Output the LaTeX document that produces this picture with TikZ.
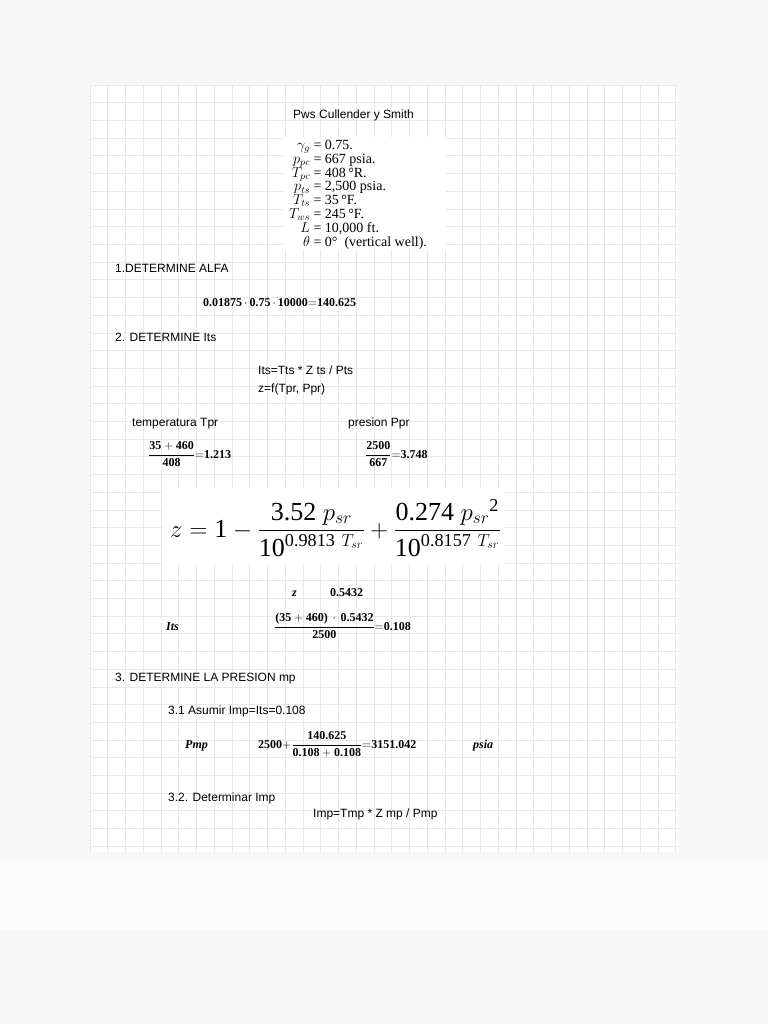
\documentclass[tikz,border=0pt]{standalone}
\usepackage{amsmath}
\usepackage{fontspec}
\setmainfont{Liberation Sans}
\newfontfamily\mc{Liberation Serif}
\newfontfamily\tm{Liberation Serif}
\newcommand{\bb}[1]{\text{\mc\bfseries #1}}
\begin{document}
\begin{tikzpicture}[x=1pt,y=-1pt,
  txt/.style={anchor=base west,inner sep=0,font=\fontsize{12}{14}\selectfont},
  mth/.style={anchor=base west,inner sep=0,font=\mc\bfseries\fontsize{12}{14}\selectfont}]
\useasboundingbox (0,0) rectangle (768,1024);
\fill[black!3] (0,0) rectangle (768,1024);
\fill[white] (90,85) rectangle (678,852);
\fill[black!1.5] (0,860) rectangle (768,930);
\foreach \i in {0,...,33} {\draw[cyan!30!black!12,line width=0.6] ({90+\i*17.75},85) -- ({90+\i*17.75},852);}
\foreach \j in {0,...,43} {\draw[cyan!30!black!12,line width=0.6] (90,{85+\j*17.7}) -- (678,{85+\j*17.7});}
\fill[white] (283,137) rectangle (446,250);
\fill[white] (163,488) rectangle (505,565);
\node[txt] (title) at (293,119) {Pws Cullender y Smith};
\node[anchor=north west,inner sep=0,font=\tm\fontsize{14}{13.6}\selectfont] (params) at (289,140) {%
\renewcommand{\arraystretch}{1}\setlength{\tabcolsep}{0pt}%
\begin{tabular}{r@{ = }l}
$\gamma_g$ & 0.75.\\
$p_{pc}$ & 667 psia.\\
$T_{pc}$ & 408\,°R.\\
$p_{ts}$ & 2,500 psia.\\
$T_{ts}$ & 35\,°F.\\
$T_{ws}$ & 245\,°F.\\
$L$ & 10,000 ft.\\
$\theta$ & 0° \ (vertical well).
\end{tabular}};
\node[txt] (s1) at (115,272) {1.DETERMINE ALFA};
\node[mth] (alfa) at (203,306) {0.01875\,$\cdot$\,0.75\,$\cdot$\,10000$=$140.625};
\node[txt] (s2) at (115,341) {2. DETERMINE Its};
\node[txt] (its) at (258,374) {Its=Tts * Z ts / Pts};
\node[txt] (zf) at (258,392) {z=f(Tpr, Ppr)};
\node[txt] (tpr) at (132,426) {temperatura Tpr};
\node[txt] (ppr) at (348,426) {presion Ppr};
\node[mth] (tprv) at (148,458) {$\dfrac{\bb{35}+\bb{460}}{\bb{408}}$$=$1.213};
\node[mth] (pprv) at (365,458) {$\dfrac{\bb{2500}}{\bb{667}}$$=$3.748};
\node[anchor=base west,inner sep=0,font=\tm\fontsize{26}{28}\selectfont] (zeq) at (170,537)
  {$z = \text{\tm 1} - \dfrac{\text{\tm 3.52}\ p_{sr}}{\text{\tm 10}^{\text{\tm 0.9813}\ T_{sr}}} + \dfrac{\text{\tm 0.274}\ p_{sr}{}^{\text{\tm 2}}}{\text{\tm 10}^{\text{\tm 0.8157}\ T_{sr}}}$};
\node[mth] (zl) at (292,596) {\textit{z}};
\node[mth] (zv) at (330,596) {0.5432};
\node[mth] (itsl) at (166,630) {\textit{Its}};
\node[mth] (itsv) at (274,630) {$\dfrac{\bb{(35}+\bb{460)}\,\cdot\,\bb{0.5432}}{\bb{2500}}$$=$0.108};
\node[txt] (s3) at (115,681) {3. DETERMINE LA PRESION mp};
\node[txt] (s31) at (168,714) {3.1 Asumir Imp=Its=0.108};
\node[mth] (pmpl) at (185,748) {\textit{Pmp}};
\node[mth] (pmpv) at (258,748) {2500$+$$\dfrac{\bb{140.625}}{\bb{0.108}+\bb{0.108}}$$=$3151.042};
\node[mth] (psia) at (473,748) {\textit{psia}};
\node[txt] (s32) at (168,801) {3.2. Determinar Imp};
\node[txt] (imp) at (313,817) {Imp=Tmp * Z mp / Pmp};
\end{tikzpicture}
\end{document}
